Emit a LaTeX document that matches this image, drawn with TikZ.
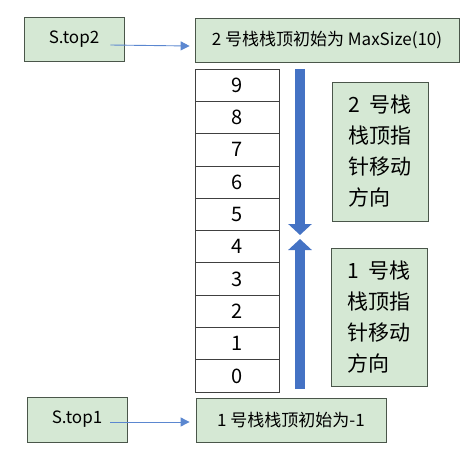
\documentclass[tikz,border=0pt]{standalone}
\usepackage{fontspec}
\setmainfont{Noto Sans CJK SC}
\usepackage{tikz}
\usetikzlibrary{arrows.meta,positioning}
\definecolor{boxgreen}{HTML}{D5E8D4}
\definecolor{boxline}{HTML}{4A564A}
\definecolor{arrowblue}{HTML}{4472C4}
\definecolor{thinblue}{HTML}{5B87D0}
\tikzstyle{greenbox} = [rectangle, draw=boxline, fill=boxgreen, line width=0.8pt, text centered, font=\fontsize{17}{20}\selectfont]
\tikzstyle{dirbox} = [rectangle, draw=boxline, fill=boxgreen, line width=0.8pt, align=left, minimum width=96pt, font=\fontsize{21}{31}\selectfont]
\tikzstyle{cell} = [rectangle, draw=black!75, line width=0.8pt, minimum width=84pt, minimum height=32.3pt, inner sep=0pt, font=\fontsize{20}{22}\selectfont]
\tikzstyle{pointer} = [draw=thinblue, line width=0.9pt, -{Triangle[length=9pt,width=9pt]}]
\tikzstyle{movearrow} = [draw=arrowblue, line width=10pt, -{Triangle[length=11pt,width=23pt]}]

\begin{document}
\begin{tikzpicture}[x=1pt, y=1pt, node distance=32.3pt]
        \useasboundingbox (0,0) rectangle (474,-460);
        \node (init2) [greenbox, minimum width=264pt, minimum height=44pt] at (327,-40) {2 号栈栈顶初始为 MaxSize(10)};
        \node (top2) [greenbox, minimum width=100pt, minimum height=44pt] at (74,-39) {S.top2};
        \node (cell9) [cell] at (237,-85.2) {9};
        \node (cell8) [cell, below of = cell9] {8};
        \node (cell7) [cell, below of = cell8] {7};
        \node (cell6) [cell, below of = cell7] {6};
        \node (cell5) [cell, below of = cell6] {5};
        \node (cell4) [cell, below of = cell5] {4};
        \node (cell3) [cell, below of = cell4] {3};
        \node (cell2) [cell, below of = cell3] {2};
        \node (cell1) [cell, below of = cell2] {1};
        \node (cell0) [cell, below of = cell1] {0};
        \node (dir2) [dirbox, minimum height=139pt] at (380,-151.5) {2\ \ 号栈\\栈顶指\\针移动\\方向};
        \node (dir1) [dirbox, minimum height=138pt] at (379,-317) {1\ \ 号栈\\栈顶指\\针移动\\方向};
        \node (top1) [greenbox, minimum width=100pt, minimum height=45pt] at (77,-419.5) {S.top1};
        \node (init1) [greenbox, minimum width=190pt, minimum height=44pt] at (291,-420) {1 号栈栈顶初始为-1};
        \coordinate (down-start) at (300,-69);
        \coordinate (down-end) at (300,-235);
        \coordinate (up-start) at (300,-389);
        \coordinate (up-end) at (300,-239);
        \draw [pointer] ([xshift=-14pt,yshift=-6pt]top2.east) -- ([xshift=-5pt,yshift=-6pt]init2.west);
        \draw [pointer] ([xshift=-17pt,yshift=-2.5pt]top1.east) -- ([xshift=-6pt,yshift=-2pt]init1.west);
        \draw [movearrow] (down-start) -- (down-end);
        \draw [movearrow] (up-start) -- (up-end);
\end{tikzpicture}
\end{document}
